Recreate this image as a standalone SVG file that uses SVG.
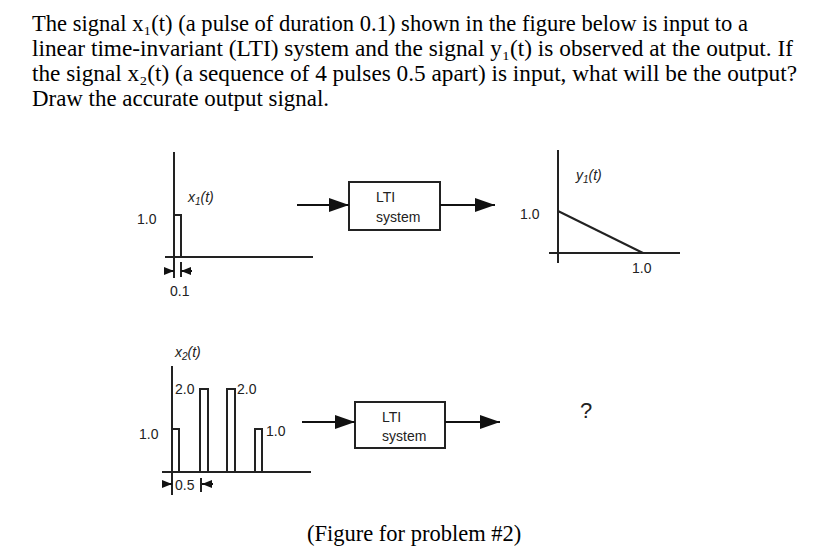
<svg xmlns="http://www.w3.org/2000/svg" width="829" height="558" viewBox="0 0 829 558">
<style>
.t{font-family:"Liberation Serif",serif;font-size:22.5px;fill:#000}
.s{font-family:"Liberation Sans",Arial,sans-serif;font-size:14px;fill:#222}
.ln{stroke:#222;stroke-width:2;fill:none}
</style>
<defs>
<marker id="a" markerWidth="10" markerHeight="8" refX="10" refY="4" orient="auto" markerUnits="userSpaceOnUse"><path d="M0,0L10,4L0,8z" fill="#111"/></marker>
<marker id="b" markerWidth="20" markerHeight="14" refX="20" refY="7" orient="auto" markerUnits="userSpaceOnUse"><path d="M0,0L20,7L0,14z" fill="#111"/></marker>
</defs>
<rect width="829" height="558" fill="#fff"/>
<g id="title">
<text class="t" x="32" y="31" textLength="716" lengthAdjust="spacingAndGlyphs">The signal x₁(t) (a pulse of duration 0.1) shown in the figure below is input to a</text>
<text class="t" x="32" y="56" textLength="761" lengthAdjust="spacingAndGlyphs">linear time-invariant (LTI) system and the signal y₁(t) is observed at the output. If</text>
<text class="t" x="32" y="81" textLength="765" lengthAdjust="spacingAndGlyphs">the signal x₂(t) (a sequence of 4 pulses 0.5 apart) is input, what will be the output?</text>
<text class="t" x="32" y="106" textLength="297" lengthAdjust="spacingAndGlyphs">Draw the accurate output signal.</text>
</g>
<g id="x1plot">
<line class="ln" x1="174" y1="152" x2="174" y2="278"/>
<line class="ln" x1="165" y1="257" x2="313" y2="257"/>
<polyline class="ln" points="174,215 181,215 181,257"/>
<text class="s" x="137" y="224">1.0</text>
<text class="s" x="188" y="202" font-style="italic">x<tspan font-size="10" dy="3">1</tspan><tspan dy="-3">(t)</tspan></text>
<line class="ln" x1="181" y1="262" x2="181" y2="277"/>
<line stroke="#111" stroke-width="2" x1="164" y1="271" x2="174" y2="271" marker-end="url(#a)"/>
<line stroke="#111" stroke-width="2" x1="192" y1="271" x2="181" y2="271" marker-end="url(#a)"/>
<text class="s" x="170" y="296">0.1</text>
</g>
<g id="lti1">
<rect class="ln" x="349" y="182" width="91" height="48"/>
<text class="s" x="376" y="202">LTI</text>
<text class="s" x="376" y="222">system</text>
</g>
<g id="y1plot">
<line class="ln" x1="558" y1="150" x2="558" y2="263"/>
<line class="ln" x1="549" y1="253" x2="680" y2="253"/>
<line class="ln" x1="558" y1="211" x2="643" y2="253"/>
<text class="s" x="520" y="219">1.0</text>
<text class="s" x="632" y="273">1.0</text>
<text class="s" x="576" y="180" font-style="italic">y<tspan font-size="10" dy="3">1</tspan><tspan dy="-3">(t)</tspan></text>
</g>
<g id="x2plot">
<line class="ln" x1="172" y1="366" x2="172" y2="495"/>
<line class="ln" x1="162" y1="472" x2="311" y2="472"/>
<polyline class="ln" points="172,429 179,429 179,472"/>
<polyline class="ln" points="200,472 200,389 208,389 208,472"/>
<polyline class="ln" points="227,472 227,389 235,389 235,472"/>
<polyline class="ln" points="255,472 255,429 262,429 262,472"/>
<text class="s" x="139" y="439">1.0</text>
<text class="s" x="175" y="394">2.0</text>
<text class="s" x="237" y="394">2.0</text>
<text class="s" x="266" y="436">1.0</text>
<text class="s" x="175" y="357" font-style="italic">x<tspan font-size="10" dy="3">2</tspan><tspan dy="-3">(t)</tspan></text>
<line class="ln" x1="201" y1="478" x2="201" y2="492"/>
<line stroke="#111" stroke-width="2" x1="162" y1="484" x2="172" y2="484" marker-end="url(#a)"/>
<line stroke="#111" stroke-width="2" x1="213" y1="484" x2="202" y2="484" marker-end="url(#a)"/>
<text class="s" x="175" y="490">0.5</text>
</g>
<g id="lti2">
<rect class="ln" x="355" y="402" width="90" height="46"/>
<text class="s" x="382" y="422">LTI</text>
<text class="s" x="382" y="441">system</text>
</g>
<g id="q"><text x="580" y="418" font-family="Liberation Sans,sans-serif" font-size="22" fill="#222">?</text></g>
<g id="connectors">
<line stroke="#111" stroke-width="2" x1="297" y1="205" x2="349" y2="205" marker-end="url(#b)"/>
<line stroke="#111" stroke-width="2" x1="440" y1="205" x2="495" y2="205" marker-end="url(#b)"/>
<line stroke="#111" stroke-width="2" x1="302" y1="422" x2="355" y2="422" marker-end="url(#b)"/>
<line stroke="#111" stroke-width="2" x1="445" y1="422" x2="500" y2="422" marker-end="url(#b)"/>
</g>
<text class="t" x="307" y="541" font-size="21">(Figure for problem #2)</text>
</svg>
